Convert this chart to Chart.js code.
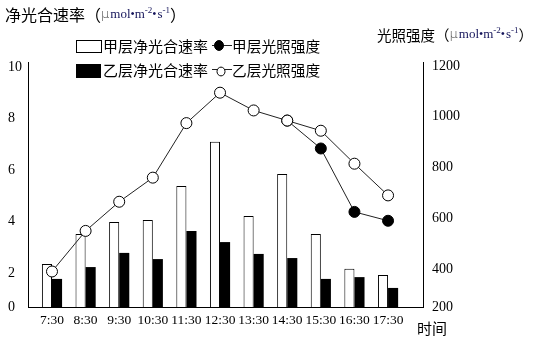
<!DOCTYPE html>
<html>
<head>
<meta charset="utf-8">
<script src="https://cdn.jsdelivr.net/npm/chart.js@4.4.1/dist/chart.umd.min.js"></script>
<style>
  html, body { margin: 0; padding: 0; background: #fff; }
  #wrap { width: 550px; height: 344px; position: relative; }
</style>
</head>
<body>
<div id="wrap"><canvas id="c" width="550" height="344"></canvas></div>
<script>
// Sampling times
const times = ['7:30', '8:30', '9:30', '10:30', '11:30', '12:30', '13:30', '14:30', '15:30', '16:30', '17:30'];

// Net photosynthetic rate (μmol·m⁻²·s⁻¹)
const rateUpper = [2.35, 3.51, 3.98, 4.06, 5.38, 7.09, 4.21, 5.84, 3.51, 2.16, 1.92];   // 甲层
const rateLower = [1.77, 2.23, 2.78, 2.54, 3.63, 3.20, 2.74, 2.58, 1.77, 1.84, 1.42];   // 乙层

// Light intensity (μmol·m⁻²·s⁻¹)
const lightUpper = [null, null, null, null, null, null, null, 985, 875, 625, 590];       // 甲层
const lightLower = [390, 550, 665, 760, 975, 1095, 1025, 985, 945, 815, 690];           // 乙层

// Axis tick labels (lowest label sits on the broken baseline)
const rateTicks = [0, 2, 4, 6, 8, 10];
const lightTicks = [200, 400, 600, 800, 1000, 1200];

// Scale ranges
const RATE_MIN = 0.68, RATE_MAX = 10.19;
const LIGHT_MIN = 250, LIGHT_MAX = 1216;
const X_MIN = -0.714, X_MAX = 11.04;

const CJK = '"Noto Sans CJK SC", "Noto Sans", sans-serif';
const SERIF = '"Liberation Serif", "Times New Roman", serif';

const pts = arr => arr.map((v, i) => ({ x: i, y: v }));

// Titles, legend and the x-axis name
const decorations = {
  id: 'decorations',
  afterDraw(chart) {
    const ctx = chart.ctx;
    ctx.save();
    ctx.textBaseline = 'middle';
    ctx.textAlign = 'left';

    function runs(x, y, list) {
      for (const r of list) {
        ctx.font = r.f;
        ctx.fillStyle = r.c || '#000';
        ctx.fillText(r.t, x, y + (r.dy || 0));
        x += ctx.measureText(r.t).width + (r.gap || 0);
      }
    }
    function unitRuns(cjkSize) {
      const navy = '#14145a';
      return [
        { t: 'μ', f: '300 13px "DejaVu Sans", sans-serif', c: '#444', gap: 1 },
        { t: 'mol', f: '13px ' + SERIF, c: navy },
        { t: '•', f: '12px ' + SERIF, c: navy },
        { t: 'm', f: '13px ' + SERIF, c: navy },
        { t: '-2', f: '9px ' + SERIF, c: navy, dy: -4 },
        { t: '•', f: '12px ' + SERIF, c: navy, gap: 1 },
        { t: 's', f: '13px ' + SERIF, c: navy },
        { t: '-1', f: '9px ' + SERIF, c: navy, dy: -4 },
        { t: '）', f: cjkSize + 'px ' + CJK, c: '#000' }
      ];
    }

    // Left axis title
    runs(5, 15, [{ t: '净光合速率（', f: '16px ' + CJK }].concat(unitRuns(16)));
    // Right axis title
    runs(377, 35, [{ t: '光照强度（', f: '14.5px ' + CJK }].concat(unitRuns(14.5)));

    // x-axis name
    ctx.font = '15px ' + CJK;
    ctx.fillStyle = '#000';
    ctx.fillText('时间', 417, 328);

    // Legend
    const ds = chart.data.datasets;
    const barA = ds[0], lineA = ds[1], barB = ds[2], lineB = ds[3];
    ctx.lineWidth = 1;

    ctx.fillStyle = barA.backgroundColor;
    ctx.strokeStyle = barA.borderColor;
    ctx.fillRect(76.5, 40.5, 25, 12);
    ctx.strokeRect(76.5, 40.5, 25, 12);

    ctx.fillStyle = barB.backgroundColor;
    ctx.fillRect(76, 64, 25, 14);

    ctx.font = '15px ' + CJK;
    ctx.fillStyle = '#000';
    ctx.fillText(barA.label, 103, 46);
    ctx.fillText(barB.label, 103, 70);

    function marker(y, cx, cy, r, d) {
      ctx.strokeStyle = d.borderColor;
      ctx.beginPath();
      ctx.moveTo(212, y); ctx.lineTo(232, y);
      ctx.stroke();
      ctx.beginPath();
      ctx.ellipse(cx, cy, r, r * 1.1, 0, 0, Math.PI * 2);
      ctx.fillStyle = d.pointBackgroundColor;
      ctx.fill();
      ctx.strokeStyle = d.pointBorderColor;
      ctx.stroke();
    }
    marker(45.5, 219, 45.5, 4.5, lineA);
    marker(69.5, 221, 71.5, 4, lineB);

    ctx.font = '14.7px ' + CJK;
    ctx.fillStyle = '#000';
    ctx.fillText(lineA.label, 232, 46);
    ctx.fillText(lineB.label, 232, 70);

    ctx.restore();
  }
};

new Chart(document.getElementById('c'), {
  data: {
    datasets: [
      {
        type: 'bar', label: '甲层净光合速率', data: pts(rateUpper), yAxisID: 'yRate',
        backgroundColor: '#ffffff', borderColor: '#000000', borderWidth: 1, borderSkipped: false,
        barPercentage: 1, categoryPercentage: 0.6, order: 2
      },
      {
        type: 'line', label: '甲层光照强度', data: pts(lightUpper), yAxisID: 'yLight',
        borderColor: '#222', borderWidth: 1, pointRadius: 5.5, pointHoverRadius: 5.5,
        pointBackgroundColor: '#000', pointBorderColor: '#000', pointBorderWidth: 1, order: 1
      },
      {
        type: 'bar', label: '乙层净光合速率', data: pts(rateLower), yAxisID: 'yRate',
        backgroundColor: '#000000', borderColor: '#000000', borderWidth: 0,
        barPercentage: 1, categoryPercentage: 0.6, order: 2
      },
      {
        type: 'line', label: '乙层光照强度', data: pts(lightLower), yAxisID: 'yLight',
        borderColor: '#222', borderWidth: 1, pointRadius: 5.5, pointHoverRadius: 5.5,
        pointBackgroundColor: '#fff', pointBorderColor: '#000', pointBorderWidth: 1, order: 0
      }
    ]
  },
  options: {
    responsive: false,
    maintainAspectRatio: false,
    animation: false,
    devicePixelRatio: 1,
    layout: { padding: { left: 8, top: 62, right: 0, bottom: 0 } },
    plugins: { legend: { display: false }, tooltip: { enabled: false }, title: { display: false } },
    scales: {
      x: {
        type: 'linear', position: 'bottom', min: X_MIN, max: X_MAX, offset: false,
        grid: { display: false, drawTicks: false, offset: false },
        border: { display: true, color: '#000', width: 1 },
        afterBuildTicks: s => { s.ticks = times.map((_, i) => ({ value: i })); },
        afterFit: s => { s.height = 37; },
        ticks: {
          autoSkip: false, maxRotation: 0, padding: 5, color: '#000',
          font: { family: SERIF, size: 13.5 },
          callback: (v, i) => times[i]
        }
      },
      yRate: {
        type: 'linear', position: 'left', min: RATE_MIN, max: RATE_MAX,
        grid: { display: false, drawTicks: false },
        border: { display: true, color: '#000', width: 1 },
        afterBuildTicks: s => { s.ticks = rateTicks.map(v => ({ value: Math.max(v, RATE_MIN) })); },
        afterFit: s => { s.width = 20; },
        ticks: {
          crossAlign: 'far', padding: 0, color: '#000',
          font: { family: SERIF, size: 14 },
          callback: (v, i) => String(rateTicks[i])
        }
      },
      yLight: {
        type: 'linear', position: 'right', min: LIGHT_MIN, max: LIGHT_MAX,
        grid: { display: false, drawTicks: false },
        border: { display: true, color: '#000', width: 1 },
        afterBuildTicks: s => { s.ticks = lightTicks.map(v => ({ value: Math.max(v, LIGHT_MIN) })); },
        afterFit: s => { s.width = 127; },
        ticks: {
          padding: 9, color: '#000',
          font: { family: SERIF, size: 14 },
          callback: (v, i) => String(lightTicks[i])
        }
      }
    }
  },
  plugins: [decorations]
});
</script>
</body>
</html>
